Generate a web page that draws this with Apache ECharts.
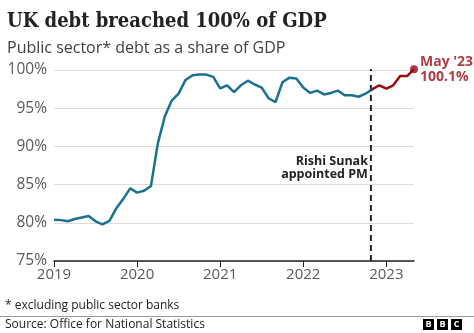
<!DOCTYPE html>
<html>
<head>
<meta charset="utf-8">
<script src="https://cdn.jsdelivr.net/npm/echarts@6/dist/echarts.min.js"></script>
<style>
  html, body { margin: 0; padding: 0; background: #ffffff; }
  #chart { width: 474px; height: 333px; }
</style>
</head>
<body>
<div id="chart"></div>
<script>
// Monthly public sector debt (excl. public sector banks), % of GDP
const months = [
  '2019-01','2019-02','2019-03','2019-04','2019-05','2019-06','2019-07','2019-08','2019-09','2019-10','2019-11','2019-12',
  '2020-01','2020-02','2020-03','2020-04','2020-05','2020-06','2020-07','2020-08','2020-09','2020-10','2020-11','2020-12',
  '2021-01','2021-02','2021-03','2021-04','2021-05','2021-06','2021-07','2021-08','2021-09','2021-10','2021-11','2021-12',
  '2022-01','2022-02','2022-03','2022-04','2022-05','2022-06','2022-07','2022-08','2022-09','2022-10','2022-11','2022-12',
  '2023-01','2023-02','2023-03','2023-04','2023-05'
];
const debtPct = [
  80.4, 80.35, 80.2, 80.5, 80.7, 80.9, 80.2, 79.8, 80.25, 81.9, 83.1, 84.5,
  83.95, 84.2, 84.8, 90.4, 93.9, 96.0, 96.9, 98.7, 99.3, 99.4, 99.4, 99.1,
  97.6, 98.0, 97.1, 98.0, 98.6, 98.1, 97.7, 96.3, 95.8, 98.4, 99.0, 98.9,
  97.7, 97.0, 97.3, 96.8, 97.0, 97.3, 96.7, 96.7, 96.5, 96.9, 97.5, 98.0,
  97.55, 98.0, 99.2, 99.2, 100.1
];
const yearTicks = [2019, 2020, 2021, 2022, 2023];
const yTicks = [75, 80, 85, 90, 95, 100];
const sunakDate = '2022-10-25';
const sunakLabel = 'Rishi Sunak\nappointed PM';
const lastLabel = "May '23";

const TEAL = '#1b7190';
const RED = '#990a14';

// month string -> fractional year (first of month)
function monthToYear(m) {
  const [y, mo] = m.split('-').map(Number);
  return y + (mo - 1) / 12;
}
function dateToYear(d) {
  const [y, mo, day] = d.split('-').map(Number);
  return y + (mo - 1 + (day - 1) / 31) / 12;
}

const points = months.map((m, i) => [monthToYear(m), debtPct[i]]);
const sunakX = dateToYear(sunakDate);
const first = points[0];
const last = points[points.length - 1];

const FONT = '"Open Sans", "Noto Sans", sans-serif';

const chart = echarts.init(document.getElementById('chart'), null, { renderer: 'canvas' });

chart.setOption({
  animation: false,
  backgroundColor: '#ffffff',
  textStyle: { fontFamily: FONT },
  title: [{
    text: 'UK debt breached 100% of GDP',
    left: 2, top: 7,
    textStyle: { fontFamily: '"DejaVu Serif Condensed", "DejaVu Serif", serif', fontSize: 20, fontWeight: 'bold', color: '#222222' }
  }, {
    text: 'Public sector* debt as a share of GDP',
    left: 2, top: 35,
    textStyle: { fontFamily: FONT, fontSize: 16, fontWeight: 'normal', color: '#404040' }
  }],
  grid: { left: 54, right: 60, top: 70, bottom: 72, containLabel: false },
  xAxis: {
    type: 'value',
    min: first[0],
    max: last[0],
    interval: 1,
    axisLine: { show: true, lineStyle: { color: '#222222', width: 1.5 } },
    axisTick: { show: true, length: 6, lineStyle: { color: '#222222', width: 1 }, customValues: yearTicks },
    axisLabel: {
      customValues: yearTicks,
      formatter: v => String(Math.round(v)),
      color: '#5a5a5a', fontSize: 15, margin: 6, fontFamily: FONT
    },
    splitLine: { show: false }
  },
  yAxis: {
    type: 'value',
    min: yTicks[0],
    max: yTicks[yTicks.length - 1],
    interval: 5,
    axisLine: { show: false },
    axisTick: { show: false },
    axisLabel: { formatter: '{value}%', color: '#5a5a5a', fontSize: 15.5, margin: 7, fontFamily: FONT },
    splitLine: { lineStyle: { color: '#dcdcdc', width: 1 } }
  },
  visualMap: {
    type: 'piecewise',
    show: false,
    dimension: 0,
    seriesIndex: 0,
    pieces: [
      { gte: first[0] - 1, lt: sunakX, color: TEAL },
      { gte: sunakX, lte: last[0] + 1, color: RED }
    ]
  },
  series: [
    {
      type: 'line',
      data: points,
      showSymbol: false,
      symbol: 'none',
      lineStyle: { width: 2.5 },
      z: 3
    },
    {
      // Sunak appointment marker
      type: 'line',
      data: [[sunakX, 75], [sunakX, 100.8]],
      showSymbol: false,
      symbol: 'none',
      lineStyle: { color: '#222222', width: 2, type: [6, 4] },
      z: 2,
      silent: true
    },
    {
      type: 'scatter',
      data: [last],
      clip: false,
      symbolSize: 8,
      itemStyle: { color: RED },
      label: {
        show: true,
        position: 'right',
        distance: 2,
        formatter: p => lastLabel + '\n' + p.value[1].toFixed(1) + '%',
        color: RED,
        fontWeight: 'bold',
        fontSize: 14,
        lineHeight: 15,
        fontFamily: FONT
      },
      z: 4
    }
  ]
});

// annotation and footer
const anchor = chart.convertToPixel({ gridIndex: 0 }, [sunakX, 87.2]);
const bbc = ['B', 'B', 'C'];
const graphics = [
  {
    type: 'text',
    x: anchor[0] - 3, y: anchor[1],
    style: {
      text: sunakLabel,
      align: 'right', verticalAlign: 'middle',
      font: 'bold 12.5px ' + FONT,
      lineHeight: 13,
      fill: '#222222'
    }
  },
  {
    type: 'text', x: 5, y: 306,
    style: { text: '* excluding public sector banks', verticalAlign: 'middle', font: '12px ' + FONT, fill: '#222222' }
  },
  {
    type: 'line', shape: { x1: 0, y1: 316.5, x2: 474, y2: 316.5 },
    style: { stroke: '#9a9a9a', lineWidth: 1 }
  },
  {
    type: 'text', x: 5, y: 325,
    style: { text: 'Source: Office for National Statistics', verticalAlign: 'middle', font: '12px ' + FONT, fill: '#222222' }
  }
];
bbc.forEach((ch, i) => {
  const x0 = 423 + i * 14;
  graphics.push({ type: 'rect', shape: { x: x0, y: 319, width: 11, height: 11 }, style: { fill: '#000000' } });
  graphics.push({
    type: 'text', x: x0 + 5.5, y: 324.8,
    style: { text: ch, align: 'center', verticalAlign: 'middle', font: 'bold 9px ' + FONT, fill: '#ffffff' }
  });
});
chart.setOption({ graphic: graphics });
</script>
</body>
</html>
